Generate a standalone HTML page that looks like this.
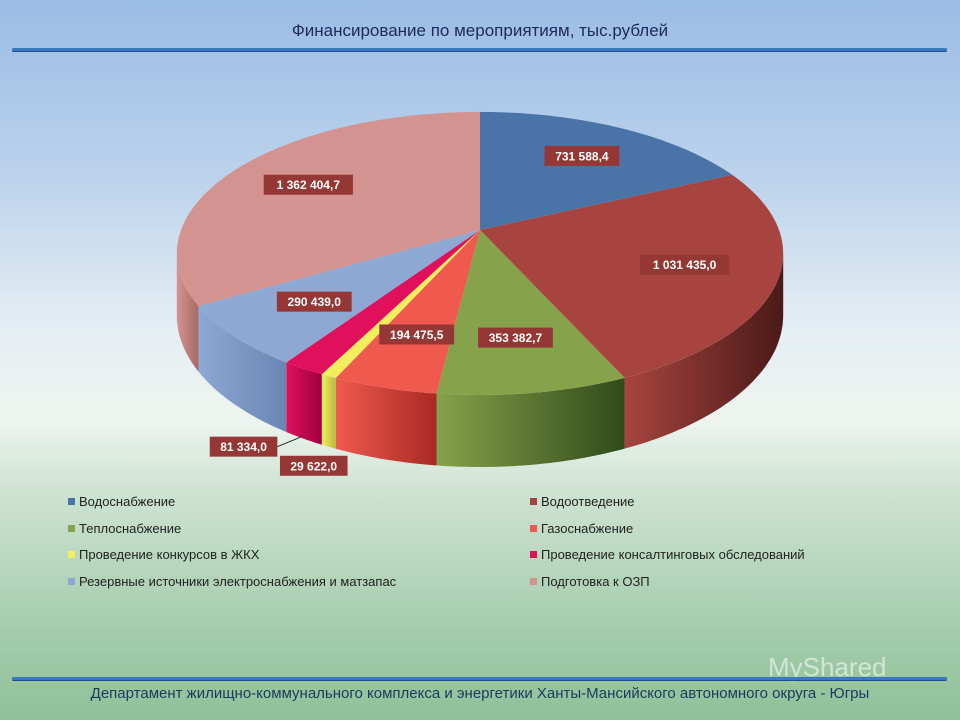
<!DOCTYPE html>
<html><head><meta charset="utf-8"><style>
html,body{margin:0;padding:0}
body{width:960px;height:720px;overflow:hidden;position:relative;font-family:"Liberation Sans","DejaVu Sans",sans-serif;
background:linear-gradient(180deg,#9bbce5 0%,#bcd3ec 25%,#e4edf3 45%,#eef5f0 58%,#cfe3d3 68%,#a9cfb0 85%,#8fc098 100%)}
.title{position:absolute;left:0;width:960px;top:21px;text-align:center;font-size:17px;color:#1c2a5c}
.rule{position:absolute;left:12px;width:935px;height:3px;border-radius:2px;background:#3a78c0;box-shadow:0 1px 0 #1f4f8a}
.footer{position:absolute;left:0;width:960px;top:685px;text-align:center;font-size:15px;color:#1b3a5e}
.leg{position:absolute;font-size:13px;color:#222;white-space:nowrap}
.leg i{display:inline-block;width:7px;height:7px;margin-right:4px;vertical-align:1px}
.wm{position:absolute;left:768px;top:652px;font-size:26px;color:rgba(255,255,255,0.55)}
</style></head><body>
<div class="title">Финансирование по мероприятиям, тыс.рублей</div>
<div class="rule" style="top:48px"></div>
<svg id="pie" width="960" height="720" style="position:absolute;left:0;top:0"></svg>
<div id="legend"></div>
<div class="wm">MyShared</div>
<div class="rule" style="top:677px"></div>
<div class="footer">Департамент жилищно-коммунального комплекса и энергетики Ханты-Мансийского автономного округа - Югры</div>
<script>
const categories=["Водоснабжение","Водоотведение","Теплоснабжение","Газоснабжение","Проведение конкурсов в ЖКХ","Проведение консалтинговых обследований","Резервные источники электроснабжения и матзапас","Подготовка к ОЗП"];
const values=[731588.4,1031435.0,353382.7,194475.5,29622.0,81334.0,290439.0,1362404.7];
const valueLabels=["731 588,4","1 031 435,0","353 382,7","194 475,5","29 622,0","81 334,0","290 439,0","1 362 404,7"];
const colors=["#4a74a8","#a8443f","#86a24a","#f05a4e","#f2ee5c","#e0105c","#8ea8d4","#d39390"];
const sideColors=["#2e4e78","#4a1a18","#2f4a1a","#a82a24","#b8b83c","#a00040","#6a86b4","#a86866"];

const NS="http://www.w3.org/2000/svg";
const svg=document.getElementById('pie');
const apx=480,apy=230,D=6.03,A=1803,B=830,DEPTH=72;
function pt(t,f,side){f=f==null?1:f;const X=Math.sin(t)*f,Z=Math.cos(t)*f;const s=1/(D+Z);
  let y=apy-B*Z*s; if(side) y+=DEPTH*(D-1)*s; return [apx+A*X*s,y];}
function mk(tag,attrs){const e=document.createElementNS(NS,tag);for(const k in attrs)e.setAttribute(k,attrs[k]);svg.appendChild(e);return e;}
const defs=document.createElementNS(NS,'defs');svg.appendChild(defs);
function total(){return values.reduce((a,b)=>a+b,0);}
let angles=[];let acc=0;
values.forEach(v=>{const a0=acc/total()*2*Math.PI;acc+=v;angles.push([a0,acc/total()*2*Math.PI]);});
function arcPts(a0,a1,side,rev){const n=48;const out=[];for(let i=0;i<=n;i++){const k=rev?n-i:i;out.push(pt(a0+(a1-a0)*k/n,1,side));}return out;}
const lim=Math.acos(-1/D);
values.forEach((v,i)=>{
  const a0=Math.max(angles[i][0],lim),a1=Math.min(angles[i][1],2*Math.PI-lim);
  if(a1<=a0)return;
  const g=document.createElementNS(NS,'linearGradient');g.setAttribute('id','g'+i);
  g.setAttribute('x1','0');g.setAttribute('x2','1');g.setAttribute('y1','0');g.setAttribute('y2','0');
  g.innerHTML='<stop offset="0" stop-color="'+colors[i]+'"/><stop offset="1" stop-color="'+sideColors[i]+'"/>';
  defs.appendChild(g);
  const p=arcPts(a0,a1,false,false).concat(arcPts(a0,a1,true,true));
  const e=mk('path',{d:'M'+p.map(q=>q[0].toFixed(1)+','+q[1].toFixed(1)).join('L')+'Z',fill:'url(#g'+i+')'});
  
  
});
values.forEach((v,i)=>{
  const [a0,a1]=angles[i];
  const p=arcPts(a0,a1,false,false);
  const e=mk('path',{d:'M'+apx+','+apy+'L'+p.map(q=>q[0].toFixed(1)+','+q[1].toFixed(1)).join('L')+'Z',fill:colors[i]});
  
  
});
values.forEach((v,i)=>{
  const [a0,a1]=angles[i];const m=(a0+a1)/2;
  const frac=v/total();
  let x,y,outside=frac<0.03,anchor;
  if(!outside){[x,y]=pt(m,0.7,false);}
  else{anchor=pt(m,1,true);x=anchor[0]+(i==5?-60:-15);y=anchor[1]+(i==5?8:19);}
  const w=valueLabels[i].length*7.2+10;
  const r=mk('rect',{x:x-w/2,y:y-10,width:w,height:20,fill:'#953735'});
  
  
  const t=mk('text',{x:x,y:y+4.5,'text-anchor':'middle','font-size':'12','font-weight':'bold',fill:'#fff','font-family':'Liberation Sans, sans-serif'});
  t.textContent=valueLabels[i];
  
  
  if(outside&&i==5){const l=mk('path',{d:'M'+(x+w/2)+','+y+'L'+(anchor[0]-2)+','+(anchor[1]-2),stroke:'#222',fill:'none'});
    
    }
});
const leg=document.getElementById('legend');
categories.forEach((c,i)=>{
  const d=document.createElement('div');d.className='leg';
  d.style.left=(i%2?530:68)+'px';d.style.top=(494+Math.floor(i/2)*26.5)+'px';
  d.innerHTML='<i style="background:'+colors[i]+'"></i>'+c;
  
  
  leg.appendChild(d);
});
</script>
</body></html>
